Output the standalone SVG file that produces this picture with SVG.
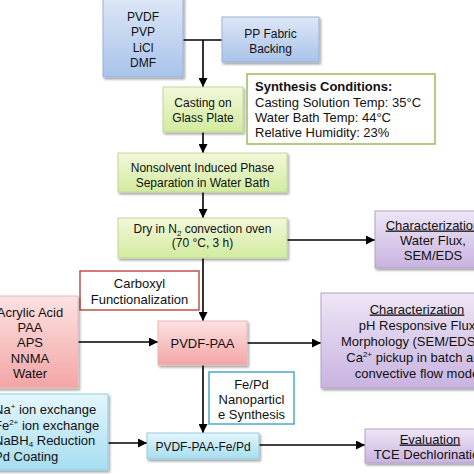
<svg xmlns="http://www.w3.org/2000/svg" width="474" height="474" viewBox="0 0 474 474">
<defs>
<linearGradient id="gBlue" x1="0" y1="0" x2="0" y2="1"><stop offset="0" stop-color="#dde7f6"/><stop offset="1" stop-color="#a9c3ea"/></linearGradient>
<linearGradient id="gGreen" x1="0" y1="0" x2="0" y2="1"><stop offset="0" stop-color="#f2f8da"/><stop offset="1" stop-color="#d2eb9e"/></linearGradient>
<linearGradient id="gRed" x1="0" y1="0" x2="0" y2="1"><stop offset="0" stop-color="#fde2e2"/><stop offset="1" stop-color="#f3a5a5"/></linearGradient>
<linearGradient id="gPurple" x1="0" y1="0" x2="0" y2="1"><stop offset="0" stop-color="#eee6f6"/><stop offset="1" stop-color="#c8b3e0"/></linearGradient>
<linearGradient id="gCyan" x1="0" y1="0" x2="0" y2="1"><stop offset="0" stop-color="#e4f6fc"/><stop offset="1" stop-color="#a6def0"/></linearGradient>
<filter id="sh" x="-10%" y="-10%" width="130%" height="140%"><feDropShadow dx="1.5" dy="2" stdDeviation="1.2" flood-color="#000" flood-opacity="0.35"/></filter>
<marker id="ar" viewBox="0 0 10 10" refX="10" refY="5" markerWidth="9" markerHeight="9" markerUnits="userSpaceOnUse" orient="auto"><path d="M0,0 L10,5 L0,10 z" fill="#000"/></marker>
</defs>
<style>
text{font-family:"Liberation Sans",Arial,sans-serif;font-size:12px;fill:#111;}
.c{text-anchor:middle;}
.f13{font-size:13px;}
.b{font-weight:bold;}
.u{text-decoration:underline;}
.blue{fill:url(#gBlue);stroke:#95b3d7;stroke-width:1;filter:url(#sh);}
.green{fill:url(#gGreen);stroke:#c3d69b;stroke-width:1;filter:url(#sh);}
.red{fill:url(#gRed);stroke:#e6b9b8;stroke-width:1;filter:url(#sh);}
.purple{fill:url(#gPurple);stroke:#b3a2c7;stroke-width:1;filter:url(#sh);}
.cyan{fill:url(#gCyan);stroke:#93cddd;stroke-width:1;filter:url(#sh);}
.wg{fill:#fff;stroke:#9bbb59;stroke-width:1.5;}
.wr{fill:#fff;stroke:#c0504d;stroke-width:1.5;}
.wc{fill:#fff;stroke:#4bacc6;stroke-width:1.5;}
.ln{fill:none;stroke:#000;stroke-width:1.6;}
</style>

<g id="connectors">
<path class="ln" d="M183,40 H222"/>
<path class="ln" d="M203,40 V87" marker-end="url(#ar)"/>
<path class="ln" d="M203,132 V153" marker-end="url(#ar)"/>
<path class="ln" d="M203,192 V218" marker-end="url(#ar)"/>
<path class="ln" d="M287,240 H375" marker-end="url(#ar)"/>
<path class="ln" d="M203,258 V321" marker-end="url(#ar)"/>
<path class="ln" d="M78,342 H158" marker-end="url(#ar)"/>
<path class="ln" d="M247,343 H321" marker-end="url(#ar)"/>
<path class="ln" d="M203,365 V433" marker-end="url(#ar)"/>
<path class="ln" d="M108,443 H147" marker-end="url(#ar)"/>
<path class="ln" d="M259,445 H365" marker-end="url(#ar)"/>
</g>

<g id="materials">
<rect class="blue" x="103" y="-3" width="80" height="80"/>
<text class="c" x="143" y="20.5">PVDF</text>
<text class="c" x="143" y="36">PVP</text>
<text class="c" x="143" y="51.5">LiCl</text>
<text class="c" x="143" y="66.5">DMF</text>
</g>

<g id="backing">
<rect class="blue" x="222" y="17" width="97" height="45"/>
<text class="c" x="270.5" y="37.5">PP Fabric</text>
<text class="c" x="270.5" y="52.5">Backing</text>
</g>

<g id="casting">
<rect class="green" x="163" y="87" width="80" height="45"/>
<text class="c" x="203" y="107">Casting on</text>
<text class="c" x="203" y="121.5">Glass Plate</text>
</g>

<g id="synthesis">
<rect class="wg" x="247" y="74" width="188" height="70"/>
<text class="f13 b" x="255" y="91">Synthesis Conditions:</text>
<text class="f13" x="255" y="106.5">Casting Solution Temp: 35°C</text>
<text class="f13" x="255" y="121.5">Water Bath Temp: 44°C</text>
<text class="f13" x="255" y="136.5">Relative Humidity: 23%</text>
</g>

<g id="nips">
<rect class="green" x="118" y="153" width="169" height="39"/>
<text class="c" x="202.5" y="172">Nonsolvent Induced Phase</text>
<text class="c" x="202.5" y="187">Separation in Water Bath</text>
</g>

<g id="dry">
<rect class="green" x="118" y="218" width="169" height="40"/>
<text class="c" x="202.5" y="232.5">Dry in N<tspan font-size="8" dy="3">2</tspan><tspan dy="-3"> convection oven</tspan></text>
<text class="c" x="202.5" y="247">(70 °C, 3 h)</text>
</g>

<g id="char1">
<rect class="purple" x="375" y="211" width="116" height="57"/>
<text class="c f13 u" x="433" y="229.5">Characterization</text>
<text class="c f13" x="433" y="244.5">Water Flux,</text>
<text class="c f13" x="433" y="259.5">SEM/EDS</text>
</g>

<g id="carboxyl">
<rect class="wr" x="80" y="271" width="119" height="39"/>
<text class="c f13" x="139.5" y="287.5">Carboxyl</text>
<text class="c f13" x="139.5" y="303.5">Functionalization</text>
</g>

<g id="reagents">
<rect class="red" x="-18" y="296" width="96" height="92"/>
<text class="c f13" x="30" y="316.5">Acrylic Acid</text>
<text class="c f13" x="30" y="331.5">PAA</text>
<text class="c f13" x="30" y="347">APS</text>
<text class="c f13" x="30" y="362.5">NNMA</text>
<text class="c f13" x="30" y="377.5">Water</text>
</g>

<g id="pvdfpaa">
<rect class="red" x="158" y="321" width="89" height="44"/>
<text class="c f13" x="202.5" y="347.5">PVDF-PAA</text>
</g>

<g id="char2">
<rect class="purple" x="321" y="293" width="192" height="95"/>
<text class="c f13 u" x="417" y="313.5">Characterization</text>
<text class="c f13" x="417" y="329.5">pH Responsive Flux</text>
<text class="c f13" x="410" y="345.5">Morphology (SEM/EDS,</text>
<text class="c f13" x="417" y="361.5">Ca<tspan font-size="8" dy="-5">2+</tspan><tspan dy="5"> pickup in batch and</tspan></text>
<text class="c f13" x="417" y="377.5">convective flow mode</text>
</g>

<g id="fepd">
<rect class="wc" x="209" y="372" width="85" height="52"/>
<text class="c f13" x="251.5" y="389">Fe/Pd</text>
<text class="c f13" x="251.5" y="404">Nanoparticl</text>
<text class="c f13" x="251.5" y="419">e Synthesis</text>
</g>

<g id="steps">
<rect class="cyan" x="-15" y="394" width="123" height="76"/>
<text class="f13" x="-6" y="413.5">Na<tspan font-size="8" dy="-5">+</tspan><tspan dy="5"> ion exchange</tspan></text>
<text class="f13" x="-6" y="429.5">Fe<tspan font-size="8" dy="-5">2+</tspan><tspan dy="5"> ion exchange</tspan></text>
<text class="f13" x="-6" y="445">NaBH<tspan font-size="8" dy="2">4</tspan><tspan dy="-2"> Reduction</tspan></text>
<text class="f13" x="-6" y="461">Pd Coating</text>
</g>

<g id="pvdfpaafepd">
<rect class="cyan" x="147" y="433" width="112" height="26"/>
<text class="c" x="203" y="451">PVDF-PAA-Fe/Pd</text>
</g>

<g id="evaluation">
<rect class="purple" x="365" y="429" width="130" height="34"/>
<text class="c f13 u" x="430" y="443.5">Evaluation</text>
<text class="c f13" x="430" y="458.5">TCE Dechlorination</text>
</g>
</svg>
